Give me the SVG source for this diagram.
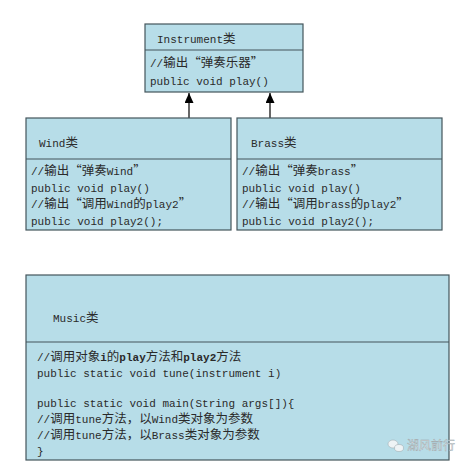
<svg xmlns="http://www.w3.org/2000/svg" width="474" height="470" viewBox="0 0 474 470">
<style>
.box{fill:#b7dde8;stroke:#44555b;stroke-width:1.2}
.div{stroke:#44555b;stroke-width:1.2}
.t{font-family:"Liberation Mono","Noto Sans CJK SC",monospace;font-size:11px;fill:#2a2a2a}
.c{font-family:"Noto Sans CJK SC","Liberation Mono",sans-serif;font-size:12.5px}
.b{font-weight:bold}
.link{stroke:#000;stroke-width:1.2;fill:none}
.wm{font-family:"Noto Sans CJK SC",sans-serif;font-size:12px;fill:#e8eef0;stroke:#9aa4a8;stroke-width:0.4}
</style>
<defs>
<marker id="arr" markerWidth="10" markerHeight="12" refX="10" refY="4.5" orient="auto" markerUnits="userSpaceOnUse">
<path d="M0,0 L10,4.5 L0,9 Z" fill="#000"/>
</marker>
</defs>
<rect width="474" height="470" fill="#fff"/>
<g id="connectors">
<line class="link" x1="189" y1="118" x2="189" y2="93" marker-end="url(#arr)"/>
<line class="link" x1="270" y1="118" x2="270" y2="93" marker-end="url(#arr)"/>
</g>
<g id="instrument">
<rect class="box" x="145" y="24" width="158" height="68"/>
<line class="div" x1="145" y1="50" x2="303" y2="50"/>
<text class="t" x="157" y="43">Instrument<tspan class="c">类</tspan></text>
<text class="t" x="150" y="67">//<tspan class="c">输出“弹奏乐器”</tspan></text>
<text class="t" x="150" y="85">public void play()</text>
</g>
<g id="wind">
<rect class="box" x="26" y="118" width="205" height="112"/>
<line class="div" x1="26" y1="159" x2="231" y2="159"/>
<text class="t" x="39" y="147">Wind<tspan class="c">类</tspan></text>
<text class="t" x="31" y="175">//<tspan class="c">输出“弹奏</tspan>Wind<tspan class="c">”</tspan></text>
<text class="t" x="31" y="192">public void play()</text>
<text class="t" x="31" y="208">//<tspan class="c">输出“调用</tspan>Wind<tspan class="c">的</tspan>play2<tspan class="c">”</tspan></text>
<text class="t" x="31" y="225">public void play2();</text>
</g>
<g id="brass">
<rect class="box" x="237" y="118" width="205" height="112"/>
<line class="div" x1="237" y1="159" x2="442" y2="159"/>
<text class="t" x="251" y="147">Brass<tspan class="c">类</tspan></text>
<text class="t" x="242" y="175">//<tspan class="c">输出“弹奏</tspan>brass<tspan class="c">”</tspan></text>
<text class="t" x="242" y="192">public void play()</text>
<text class="t" x="242" y="208">//<tspan class="c">输出“调用</tspan>brass<tspan class="c">的</tspan>play2<tspan class="c">”</tspan></text>
<text class="t" x="242" y="225">public void play2();</text>
</g>
<g id="music">
<rect class="box" x="26" y="275" width="423" height="185"/>
<line class="div" x1="26" y1="342" x2="449" y2="342"/>
<text class="t" x="53" y="322">Music<tspan class="c">类</tspan></text>
<text class="t" x="37" y="361">//<tspan class="c">调用对象</tspan><tspan class="b">i</tspan><tspan class="c">的</tspan><tspan class="b">play</tspan><tspan class="c">方法和</tspan><tspan class="b">play2</tspan><tspan class="c">方法</tspan></text>
<text class="t" x="37" y="377">public static void tune(instrument i)</text>
<text class="t" x="37" y="407">public static void main(String args[]){</text>
<text class="t" x="37" y="423">//<tspan class="c">调用</tspan>tune<tspan class="c">方法，以</tspan>Wind<tspan class="c">类对象为参数</tspan></text>
<text class="t" x="37" y="439">//<tspan class="c">调用</tspan>tune<tspan class="c">方法，以</tspan>Brass<tspan class="c">类对象为参数</tspan></text>
<text class="t" x="37" y="455">}</text>
</g>
<g id="watermark">
<ellipse cx="393" cy="444" rx="5" ry="4" fill="#eef3f5" stroke="#9aa4a8" stroke-width="0.5"/>
<ellipse cx="399" cy="448" rx="4.5" ry="3.5" fill="#eef3f5" stroke="#9aa4a8" stroke-width="0.5"/>
<text class="wm" x="407" y="450">湖风前行</text>
</g>
</svg>
